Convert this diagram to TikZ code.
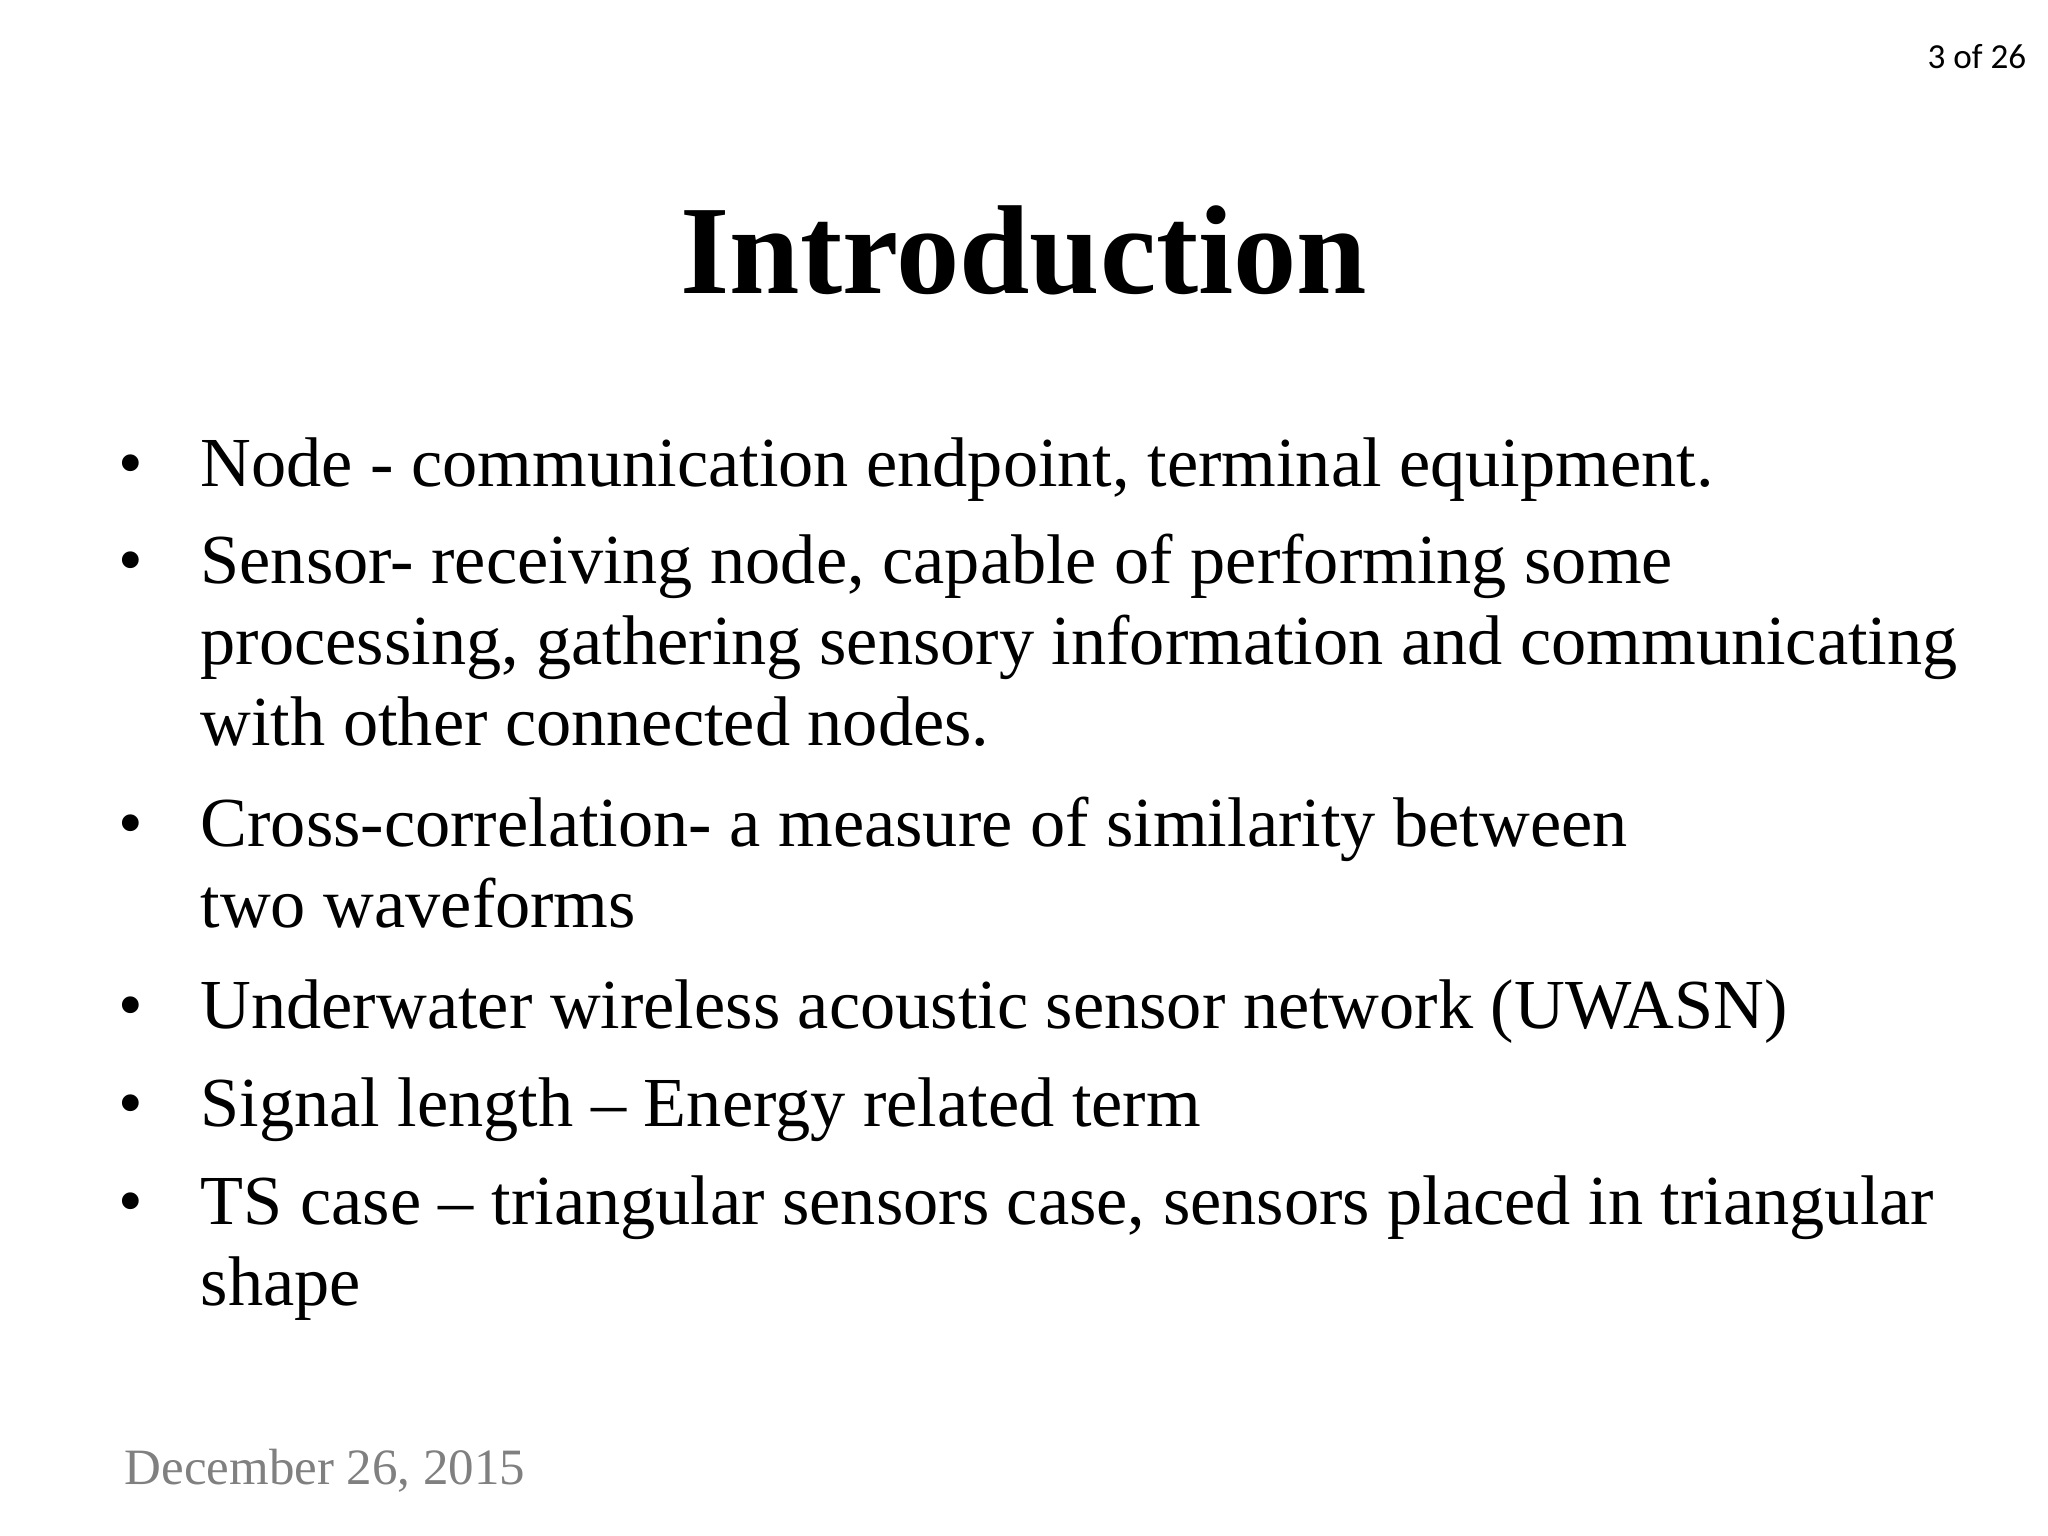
\documentclass[tikz,border=0pt]{standalone}
\usepackage{fontspec}
\setmainfont{Liberation Serif}
\newfontfamily\pagefont{Carlito}
\begin{document}
\begin{tikzpicture}[
  txt/.style={anchor=base west, inner sep=0pt, font=\fontsize{20}{24}\selectfont},
  dot/.style={anchor=base, inner sep=0pt, font=\fontsize{20}{24}\selectfont}]
\useasboundingbox[fill=white] (0,0) rectangle (20.48,-15.36);

% Page number and title
\node[anchor=base east, inner sep=0pt, font=\pagefont\fontsize{10}{12}\selectfont] (pg) at (20.27,-0.69) {3 of 26};
\node[anchor=base, inner sep=0pt, font=\fontsize{36}{40}\selectfont\bfseries] (title) at (10.24,-2.94) {Introduction};

% Bullets
\node[dot] (b1) at (1.31,-4.86) {\textbullet};
\node[txt] (l1) at (2.00,-4.86) {Node - communication endpoint, terminal equipment.};

\node[dot] (b2) at (1.31,-5.84) {\textbullet};
\node[txt] (l2a) at (2.00,-5.84) {Sensor- receiving node, capable of performing some};
\node[txt] (l2b) at (2.00,-6.65) {processing, gathering sensory information and communicating};
\node[txt] (l2c) at (2.00,-7.46) {with other connected nodes.};

\node[dot] (b3) at (1.31,-8.46) {\textbullet};
\node[txt] (l3a) at (2.00,-8.46) {Cross-correlation- a measure of similarity between};
\node[txt] (l3b) at (2.00,-9.27) {two waveforms};

\node[dot] (b4) at (1.31,-10.28) {\textbullet};
\node[txt] (l4) at (2.00,-10.28) {Underwater wireless acoustic sensor network (UWASN)};

\node[dot] (b5) at (1.31,-11.26) {\textbullet};
\node[txt] (l5) at (2.00,-11.26) {Signal length -- Energy related term};

\node[dot] (b6) at (1.31,-12.24) {\textbullet};
\node[txt] (l6a) at (2.00,-12.24) {TS case -- triangular sensors case, sensors placed in triangular};
\node[txt] (l6b) at (2.00,-13.05) {shape};

% Date
\node[anchor=base west, inner sep=0pt, text=gray, font=\fontsize{14.5}{17}\selectfont] (date) at (1.24,-14.84) {December 26, 2015};
\end{tikzpicture}
\end{document}
